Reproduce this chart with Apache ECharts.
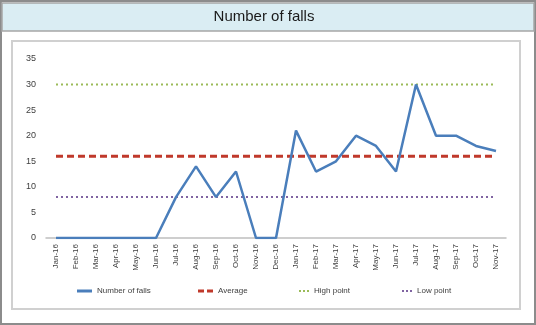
<!DOCTYPE html>
<html>
<head>
<meta charset="utf-8">
<script src="https://cdn.jsdelivr.net/npm/echarts@6/dist/echarts.min.js"></script>
<style>
  html, body { margin: 0; padding: 0; background: #ffffff; }
  #chart { width: 536px; height: 325px; }
</style>
</head>
<body>
<div id="chart"></div>
<script>
// Monthly falls, Jan 2016 – Nov 2017
const months = ['Jan-16','Feb-16','Mar-16','Apr-16','May-16','Jun-16','Jul-16','Aug-16','Sep-16','Oct-16','Nov-16','Dec-16',
                'Jan-17','Feb-17','Mar-17','Apr-17','May-17','Jun-17','Jul-17','Aug-17','Sep-17','Oct-17','Nov-17'];
const falls = [0,0,0,0,0,0,8,14,8,13,0,0,21,13,15,20,18,13,30,20,20,18,17];
const averageLevel = 16;
const highLevel = 30;
const lowLevel = 8;
const yTicks = [0, 5, 10, 15, 20, 25, 30, 35];

const chart = echarts.init(document.getElementById('chart'), null, { renderer: 'canvas' });

const flat = v => months.map(() => v);
const FONT = '"Liberation Sans", Arial, sans-serif';

// legend swatches drawn as small paths: solid bar, two dashes, three dots
const ICON_SOLID = 'path://M0,0h15v3h-15z';
const ICON_DASH = 'path://M0,0h6v3h-6zM9,0h6v3h-6z';
const ICON_DOTS = 'path://M0,0h2v2h-2zM4,0h2v2h-2zM8,0h2v2h-2z';

function legendAt(name, left, icon, w, h) {
  return {
    data: [{ name: name, icon: icon }],
    left: left, top: 287, padding: 0,
    itemWidth: w, itemHeight: h,
    textStyle: { fontSize: 8, color: '#404040', fontFamily: FONT }
  };
}

chart.setOption({
  animation: false,
  backgroundColor: '#ffffff',
  graphic: [
    // outer frame
    { type: 'rect', shape: { x: 1, y: 1, width: 534, height: 323 }, style: { fill: '#ffffff', stroke: '#8c8c8c', lineWidth: 2 }, z: -10 },
    // title band
    { type: 'rect', shape: { x: 2, y: 3, width: 532, height: 28 }, style: { fill: '#daedf3', stroke: '#a6a6a6', lineWidth: 1.5 }, z: -9 },
    { type: 'text', x: 264, y: 17, style: { text: 'Number of falls', font: '15px ' + FONT, fill: '#1a1a1a', align: 'center', verticalAlign: 'middle' }, z: 5 },
    // chart area frame
    { type: 'rect', shape: { x: 12, y: 41, width: 508, height: 268 }, style: { fill: '#ffffff', stroke: '#d0d0d0', lineWidth: 2 }, z: -8 }
  ],
  grid: { left: 46, right: 30, top: 59, bottom: 87 },
  legend: [
    legendAt('Number of falls', 77, ICON_SOLID, 15, 3),
    legendAt('Average', 198, ICON_DASH, 15, 3),
    legendAt('High point', 299, ICON_DOTS, 10, 2),
    legendAt('Low point', 402, ICON_DOTS, 10, 2)
  ],
  xAxis: {
    type: 'category',
    data: months,
    boundaryGap: true,
    axisLine: { lineStyle: { color: '#bfbfbf', width: 1.5 } },
    axisTick: { show: false },
    axisLabel: { rotate: 90, fontSize: 8, color: '#404040', margin: 6, interval: 0, fontFamily: FONT }
  },
  yAxis: {
    type: 'value',
    min: yTicks[0],
    max: yTicks[yTicks.length - 1],
    interval: 5,
    axisLine: { show: false },
    axisTick: { show: false },
    splitLine: { show: false },
    axisLabel: { fontSize: 9, color: '#404040', margin: 10, fontFamily: FONT }
  },
  series: [
    {
      name: 'Number of falls', type: 'line', data: falls, symbol: 'none',
      lineStyle: { color: '#4a7ebb', width: 2.5 }, itemStyle: { color: '#4a7ebb' }, z: 5
    },
    {
      name: 'Average', type: 'line', data: flat(averageLevel), symbol: 'none',
      lineStyle: { color: '#c0392b', width: 3, type: [7, 4] }, itemStyle: { color: '#c0392b' }, z: 4
    },
    {
      name: 'High point', type: 'line', data: flat(highLevel), symbol: 'none',
      lineStyle: { color: '#9bbb59', width: 2, type: [2, 3] }, itemStyle: { color: '#9bbb59' }, z: 3
    },
    {
      name: 'Low point', type: 'line', data: flat(lowLevel), symbol: 'none',
      lineStyle: { color: '#8064a2', width: 2, type: [2, 3] }, itemStyle: { color: '#8064a2' }, z: 3
    }
  ]
});
</script>
</body>
</html>
